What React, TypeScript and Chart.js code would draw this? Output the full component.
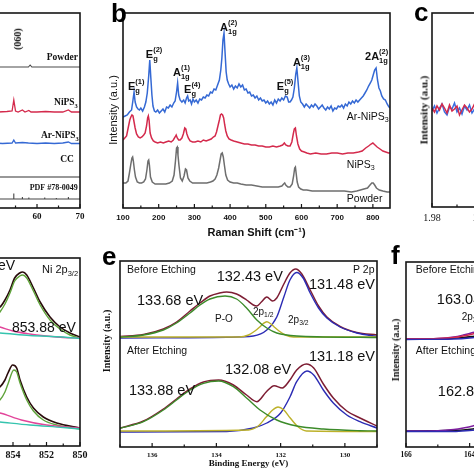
import { useEffect, useRef } from 'react';
import { Chart, registerables } from 'chart.js';
Chart.register(...registerables);

const SANS = '"Liberation Sans", Arial, sans-serif';
const SERIF = '"Liberation Serif", "Times New Roman", serif';

// ---------- panel a (XRD, partial) ----------
const xrdPowder2Theta = [47.9, 52, 55, 58, 58.4, 58.8, 62, 66, 70];
const xrdPowderI = [141, 141, 141, 141, 143, 141, 141, 141, 141];
const xrdNiPS32Theta = [47.9, 51, 53, 54.2, 54.6, 55.0, 55.6, 56.6, 57.2, 58.1, 58.6, 60, 62, 64, 66, 67.3, 68, 70];
const xrdNiPS3I = [96, 96, 96.5, 97, 108, 97, 96, 98, 96, 97.5, 96, 96, 96.5, 96, 96, 98, 96, 96];
const xrdArNiPS32Theta = [47.9, 50, 52, 54.2, 54.6, 55, 56.6, 58, 60, 62, 64, 66, 67.3, 68, 70];
const xrdArNiPS3I = [64.5, 65, 64.5, 65, 68, 65, 65.5, 65, 64.5, 65, 64.5, 65, 66, 64.5, 64.5];
const xrdCC2Theta = [47.9, 70];
const xrdCCI = [31, 31];
const xrdPdf2Theta = [47.9, 54.6, 54.6, 54.6, 56.6, 56.6, 56.6, 58.1, 58.1, 58.1, 61.8, 61.8, 61.8, 64.5, 64.5, 64.5, 67.3, 67.3, 67.3, 70];
const xrdPdfI = [9, 9, 14.5, 9, 9, 11, 9, 9, 10.5, 9, 9, 10.5, 9, 9, 10, 9, 9, 11, 9, 9];

// ---------- panel b (Raman) ----------
const ramanArShift = [100,106,112,118,124,128,131,134,138,142,146,150,155,160,164,168,172,175,178,181,184,188,192,197,202,207,212,217,222,227,232,237,242,246,250,253,256,260,265,270,274,278,281,284,288,292,296,300,305,310,315,320,325,330,335,340,345,350,355,360,365,370,374,377,380,383,386,389,392,396,400,405,410,415,420,425,430,435,440,445,450,455,460,465,470,475,480,485,490,495,500,505,510,515,520,525,530,535,540,545,550,555,560,564,568,572,576,580,584,587,590,594,598,603,608,613,618,623,628,633,638,643,648,653,658,663,668,673,678,683,688,693,698,703,708,713,718,723,728,733,738,743,748,753,758,763,768,773,778,783,788,793,797,801,805,809,813,817,821,825,830,835,840,845,850];
const ramanArI = [91,92,93,96,98,108,116,106,101,99,98,100,97,101,106,115,132,148,130,113,102,97,96,98,95,97,99,96,101,100,103,101,105,107,116,125,113,108,106,108,105,110,112,107,108,104,109,106,108,105,109,108,111,110,113,112,116,115,119,118,123,128,138,150,168,175,155,136,128,124,121,123,119,122,120,124,121,123,118,119,115,116,112,113,110,112,108,110,107,108,105,107,104,106,103,108,105,109,107,110,108,112,111,106,106,108,111,120,134,140,128,112,106,104,101,104,102,100,103,101,104,102,99,101,103,100,98,101,99,102,97,100,99,102,101,103,100,104,102,106,104,107,105,108,106,108,110,112,115,118,122,125,128,133,138,140,128,120,117,112,109,108,104,101,100];
const ramanNiShift = [100,105,110,115,119,122,125,128,131,134,138,143,148,153,158,162,166,169,171,173,176,180,185,190,197,205,213,220,228,235,241,246,249,252,256,260,265,269,273,276,279,283,288,295,302,310,318,325,333,340,347,353,358,362,366,370,373,376,379,382,385,388,392,397,403,410,420,430,440,450,460,470,480,490,500,510,520,530,540,547,552,556,562,568,573,577,580,583,586,590,595,600,608,615,625,640,655,670,685,700,715,730,745,760,770,780,788,795,800,806,812,820,828,836,844,850];
const ramanNiI = [68,70,72,81,88,91,93,92,86,80,74,71,70,71,73,75,82,90,92,88,75,70,67,66,65,66,65,66,67,66,68,71,73,70,68,68,70,74,80,79,74,70,67,66,66,67,66,68,67,68,69,71,72,76,82,88,93,94,93,90,83,77,72,69,68,67,66,65,64,64,63,63,62,62,61,61,62,61,62,63,65,63,62,62,66,74,79,80,72,64,59,57,56,55,54,55,54,54,55,55,54,55,55,56,57,60,62,64,65,63,61,59,57,56,55,55];
const ramanPowderShift = [100,108,114,118,122,125,127,129,132,135,140,146,152,158,163,167,170,172,174,177,182,190,200,210,220,230,238,243,247,250,252,254,257,261,266,271,275,278,282,287,295,305,315,325,335,345,352,358,363,368,372,375,378,381,384,388,393,400,410,420,430,445,460,475,490,505,520,535,545,550,553,556,562,568,574,578,581,583,585,588,592,598,605,615,630,645,660,680,700,720,740,755,765,775,785,792,797,801,805,810,818,828,840,850];
const ramanPowderI = [25,25,27,35,44,50,51,47,38,31,26,25,25,26,29,38,47,48,43,31,26,24,24,24,24,25,27,33,47,60,61,53,42,30,27,32,39,38,30,27,25,25,25,25,25,26,27,29,33,40,48,54,55,51,43,33,28,26,25,25,24,23,23,22,21,21,21,21,22,24,25,23,21,21,24,32,40,41,35,26,21,19,18,18,17,17,17,17,17,17,16,17,18,19,20,23,25,25,23,20,18,17,16,16];

// ---------- panel c (partial) ----------
const cField = [1.98,1.981,1.982,1.983,1.984,1.985,1.986,1.987,1.988,1.989,1.99,1.991,1.992,1.993,1.994,1.995,1.996,1.997,1.998,1.999,2.0,2.001,2.002,2.003,2.004];
const cRedI = [99,95,101,97,103,99,94,102,96,98,101,92,97,102,99,95,98,103,96,100,94,99,97,101,98];
const cBlueI = [96,101,94,99,103,95,92,100,98,104,95,99,93,101,97,102,94,98,100,96,103,91,99,97,101];

// ---------- panel d (Ni 2p3/2, partial) ----------
const niBeforeE = [850, 850.6, 851.19, 851.79, 852.38, 852.78, 853.18, 853.42, 853.6, 853.9, 854.18, 854.48, 854.78, 855.3, 856];
const niBeforeEnvI = [109, 113, 119, 129, 144, 158, 171, 174, 173, 168, 156, 146, 139, 137, 141];
const niBeforeMainI = [108, 111, 117, 126, 141, 155, 168, 171, 170, 165, 153, 142, 134, 124, 116];
const niBeforeSatE = [850, 851, 852, 853, 854, 854.78, 856];
const niBeforeSatI = [108, 108.5, 110, 112, 115, 119, 124];
const niBeforeBgE = [850, 851, 853, 854.78, 856];
const niBeforeBgI = [107.5, 109, 110.5, 113, 114];
const niAfterEnvE = [850, 851.39, 852.19, 852.78, 853.18, 853.58, 853.78, 854.02, 854.3, 854.48, 854.78, 855.3, 856];
const niAfterEnvI = [18, 23, 29, 38, 49, 66, 78, 81, 73, 66, 59, 54, 51];
const niAfterMainE = [850, 851.39, 852.19, 852.78, 853.18, 853.58, 853.78, 853.95, 854.3, 854.48, 854.78, 855.3, 856];
const niAfterMainI = [17, 21, 26, 35, 46, 63, 74, 76, 62, 54, 46, 42, 38];
const niAfterSatE = [850, 852, 853.5, 854.78, 856];
const niAfterSatI = [18, 21, 26, 33, 36];
const niAfterBgE = [850, 851, 853, 854.78, 856];
const niAfterBgI = [17, 18.5, 21, 24, 26];

// ---------- panel e (P 2p) ----------
const pBeforeEnvE = [129, 129.63, 130.15, 130.56, 130.82, 131.08, 131.34, 131.53, 131.71, 131.9, 132.12, 132.25, 132.43, 132.6, 132.74, 132.85, 133.06, 133.37, 133.68, 133.9, 134.2, 134.51, 134.82, 135.24, 135.65, 136.27, 137];
const pBeforeEnvI = [112, 114.5, 120.5, 130, 141, 157, 173, 178, 174, 163, 149, 146, 150, 145, 141, 142, 147, 153, 155, 154, 151, 144, 136, 125, 118, 112.5, 110.5];
const pBeforePOE = [129, 129.53, 131.5, 132.12, 132.43, 132.74, 133.06, 133.37, 133.73, 134.2, 134.51, 134.82, 135.24, 135.65, 136.27, 137];
const pBeforePOI = [109.5, 109.7, 111, 114, 119, 127, 139, 148, 151, 148, 142, 134, 124, 117, 112, 109.7];
const pBefore12E = [129, 131.6, 131.85, 132.05, 132.2, 132.32, 132.43, 132.54, 132.65, 132.8, 133.0, 133.3, 137];
const pBefore12I = [110, 110, 112, 116, 120, 123.5, 125.3, 123.5, 120, 116, 112, 110, 110];
const pBefore32E = [129, 129.63, 130.15, 130.56, 130.82, 131.08, 131.3, 131.5, 131.71, 131.9, 132.12, 132.43, 132.85, 133.68, 137];
const pBefore32I = [110.5, 114, 120, 129, 139, 154, 169, 174.5, 167, 150, 130, 117, 111, 109.7, 109];
const pAfterEnvE = [129, 129.53, 129.94, 130.36, 130.67, 130.97, 131.2, 131.5, 131.71, 131.95, 132.2, 132.45, 132.74, 133.06, 133.47, 133.93, 134.4, 134.82, 135.24, 135.65, 136.27, 137];
const pAfterEnvI = [21, 29, 36, 49, 63, 79, 83, 77, 67, 59, 61.3, 55, 45.3, 52, 62, 67, 65, 58, 48, 38, 26, 19];
const pAfterPOE = [129, 129.53, 130.67, 131.5, 132.12, 132.64, 133.06, 133.47, 133.93, 134.4, 134.82, 135.24, 135.65, 136.27, 137];
const pAfterPOI = [16, 16.3, 18, 21, 27, 37, 49, 60.3, 66, 63.7, 57, 47, 37, 25.3, 18.7];
const pAfter12E = [129, 131.2, 131.45, 131.7, 131.9, 132.08, 132.25, 132.45, 132.7, 133.0, 137];
const pAfter12I = [15.5, 16, 20, 29, 37, 40, 37, 30, 21, 17, 16];
const pAfter32E = [129, 129.53, 129.94, 130.36, 130.67, 130.97, 131.18, 131.5, 131.71, 132.0, 132.43, 132.85, 133.68, 137];
const pAfter32I = [19, 25.3, 32, 44, 57, 72, 76, 65.3, 50, 34, 24, 19, 15.5, 15];

// ---------- panel f (S 2p, partial) ----------
const sE6 = [163.5, 163.9, 164.2, 164.5, 165, 166];
const sBeforeBlackI = [112, 110.5, 109.5, 108.8, 108.3, 108];
const sBeforePurpleI = [119, 114.5, 112, 110, 108.5, 108];
const sBeforeRedI = [117, 113, 111, 109.5, 108.5, 108];
const sE4 = [163.5, 164, 164.5, 166];
const sBeforeBlueI = [111, 109, 108, 107.5];
const sAfterBlackI = [20, 18, 17, 16.6, 16.2, 16];
const sAfterPurpleI = [25, 21, 19, 17.5, 16.3, 16];
const sAfterBlueI = [18, 16.5, 15.5, 15.5];

// ---------- tick labels ----------
const xrdTicks = [50, 60, 70];
const ramanTicks = [100, 200, 300, 400, 500, 600, 700, 800];
const cTicks = [1.98, 2.0];
const niTicks = [850, 852, 854, 856];
const pTicks = [130, 132, 134, 136];
const sTicks = [164, 166];

type Seg = [string, number]; // 0 normal, 1 sub, 2 sup, 3 stacked "sub|sup"
interface Label { x: number; y: number; segs: Seg[]; size: number; family: string; weight?: string; align?: 'left' | 'right'; color?: string; }
interface Series { xs: number[]; ys: number[]; color: string; width?: number; smooth?: boolean; }
interface PanelSpec {
  left: number; top: number; width: number; height: number;
  pad: { left: number; top: number; right: number }; xHeight: number;
  xMin: number; xMax: number; reverse?: boolean; yMax: number; ticks: number[];
  tick: { family: string; size: number; weight: string; pad: number; decimals: number };
  title?: { text: string; family: string; size: number; weight: string; pb: number };
  series: Series[]; labels: Label[];
}

function drawLabel(ctx: CanvasRenderingContext2D, px: number, py: number, l: Label) {
  const small = l.size * 0.68;
  const w = l.weight || 'normal';
  const f = (s: number) => `${w} ${s}px ${l.family}`;
  const widths = l.segs.map(([t, k]) => {
    if (k === 0) { ctx.font = f(l.size); return ctx.measureText(t).width; }
    ctx.font = f(small);
    if (k === 3) { const [a, b] = t.split('|'); return Math.max(ctx.measureText(a).width, ctx.measureText(b).width); }
    return ctx.measureText(t).width;
  });
  const total = widths.reduce((a, b) => a + b, 0);
  let x = l.align === 'right' ? px - total : px;
  ctx.textBaseline = 'middle';
  ctx.textAlign = 'left';
  ctx.fillStyle = l.color || '#111';
  l.segs.forEach(([t, k], i) => {
    if (k === 0) { ctx.font = f(l.size); ctx.fillText(t, x, py); }
    else {
      ctx.font = f(small);
      if (k === 1) ctx.fillText(t, x, py + l.size * 0.33);
      else if (k === 2) ctx.fillText(t, x, py - l.size * 0.42);
      else { const [a, b] = t.split('|'); ctx.fillText(a, x, py + l.size * 0.33); ctx.fillText(b, x, py - l.size * 0.45); }
    }
    x += widths[i];
  });
}

function buildChart(canvas: HTMLCanvasElement, p: PanelSpec) {
  const decor = {
    id: 'decor',
    afterDatasetsDraw(chart: any) {
      const { ctx, chartArea: ca, scales } = chart;
      const xs = scales.x, ys = scales.y;
      ctx.save();
      ctx.strokeStyle = '#161616';
      ctx.lineWidth = 1.6;
      ctx.strokeRect(ca.left, ca.top, ca.right - ca.left, ca.bottom - ca.top);
      const majors = [...p.ticks].sort((a, b) => a - b);
      const minors: number[] = [];
      if (majors.length > 1) {
        const st = majors[1] - majors[0];
        minors.push(majors[0] - st / 2);
        majors.forEach((v) => minors.push(v + st / 2));
      }
      ctx.lineWidth = 1.2;
      const tick = (v: number, len: number) => {
        const px = xs.getPixelForValue(v);
        if (px < ca.left - 0.5 || px > ca.right + 0.5) return;
        ctx.beginPath(); ctx.moveTo(px, ca.bottom); ctx.lineTo(px, ca.bottom - len); ctx.stroke();
      };
      majors.forEach((v) => tick(v, 4));
      minors.forEach((v) => tick(v, 2.5));
      for (const l of p.labels) drawLabel(ctx, xs.getPixelForValue(l.x), ys.getPixelForValue(l.y), l);
      ctx.restore();
    },
  };
  const cfg: any = {
    type: 'line',
    data: {
      datasets: p.series.map((s) => ({
        data: s.xs.map((x, i) => ({ x, y: s.ys[i] })),
        borderColor: s.color,
        borderWidth: s.width ?? 1.4,
        pointRadius: 0,
        fill: false,
        tension: s.smooth ? 0.4 : 0,
        cubicInterpolationMode: s.smooth ? 'monotone' : 'default',
      })),
    },
    options: {
      animation: false,
      responsive: false,
      maintainAspectRatio: false,
      devicePixelRatio: 1,
      events: [],
      layout: { padding: { left: p.pad.left, top: p.pad.top, right: p.pad.right, bottom: 0 } },
      plugins: { legend: { display: false }, tooltip: { enabled: false } },
      scales: {
        x: {
          type: 'linear', min: p.xMin, max: p.xMax, reverse: !!p.reverse,
          grid: { display: false, drawTicks: false },
          border: { display: false },
          afterBuildTicks: (s: any) => { s.ticks = p.ticks.map((v) => ({ value: v })); },
          afterFit: (s: any) => { s.height = p.xHeight; },
          ticks: {
            autoSkip: false, maxRotation: 0, minRotation: 0,
            padding: p.tick.pad, color: '#111',
            font: { family: p.tick.family, size: p.tick.size, weight: p.tick.weight },
            callback: (v: number) => Number(v).toFixed(p.tick.decimals),
          },
          title: p.title
            ? { display: true, text: p.title.text, color: '#111', padding: { top: 0, bottom: p.title.pb },
                font: { family: p.title.family, size: p.title.size, weight: p.title.weight } }
            : { display: false },
        },
        y: { display: false, min: 0, max: p.yMax },
      },
    },
    plugins: [decor],
  };
  return new Chart(canvas, cfg);
}

function PanelChart({ spec }: { spec: PanelSpec }) {
  const ref = useRef<HTMLCanvasElement>(null);
  useEffect(() => {
    const chart = buildChart(ref.current as HTMLCanvasElement, spec);
    return () => chart.destroy();
  }, []);
  return (
    <canvas ref={ref} width={spec.width} height={spec.height}
      style={{ position: 'absolute', left: spec.left, top: spec.top, width: spec.width, height: spec.height }} />
  );
}

const BLUE = '#3569d4';
const RED = '#d42a4c';

const serifLab = (x: number, y: number, segs: Seg[], size = 9.5): Label => ({ x, y, segs, size, family: SERIF, weight: 'bold', align: 'right' });
const peakLab = (x: number, y: number, base: string, stack: string): Label => ({ x, y, segs: [[base, 0], [stack, 3]], size: 11, family: SANS, weight: 'bold' });
const sansLab = (x: number, y: number, segs: Seg[], size: number): Label => ({ x, y, segs, size, family: SANS });

const panelA: PanelSpec = {
  left: -35, top: 0, width: 127, height: 245, pad: { left: 20, top: 13, right: 12 }, xHeight: 37,
  xMin: 47.9, xMax: 70, yMax: 195, ticks: xrdTicks,
  tick: { family: SERIF, size: 9, weight: 'bold', pad: 3.6, decimals: 0 },
  series: [
    { xs: xrdPdf2Theta, ys: xrdPdfI, color: '#444', width: 1.1 },
    { xs: xrdCC2Theta, ys: xrdCCI, color: '#333', width: 1.1 },
    { xs: xrdArNiPS32Theta, ys: xrdArNiPS3I, color: BLUE, width: 1.3 },
    { xs: xrdNiPS32Theta, ys: xrdNiPS3I, color: RED, width: 1.3 },
    { xs: xrdPowder2Theta, ys: xrdPowderI, color: '#4a4a4a', width: 1.1 },
  ],
  labels: [
    serifLab(69.5, 150, [['Powder', 0]]),
    serifLab(69.5, 105, [['NiPS', 0], ['3', 1]]),
    serifLab(69.7, 72, [['Ar-NiPS', 0], ['3', 1]]),
    serifLab(68.6, 48, [['CC', 0]]),
    serifLab(69.5, 20, [['PDF #78-0049', 0]], 8),
  ],
};

const panelB: PanelSpec = {
  left: 100, top: 0, width: 300, height: 245, pad: { left: 23, top: 13, right: 10 }, xHeight: 37,
  xMin: 100, xMax: 848, yMax: 195, ticks: ramanTicks,
  tick: { family: SANS, size: 8, weight: 'bold', pad: 5.2, decimals: 0 },
  title: { text: 'Raman Shift (cm\u207B\u00B9)', family: SANS, size: 11, weight: 'bold', pb: 5.4 },
  series: [
    { xs: ramanPowderShift, ys: ramanPowderI, color: '#6e6e6e', width: 1.5 },
    { xs: ramanNiShift, ys: ramanNiI, color: RED, width: 1.5 },
    { xs: ramanArShift, ys: ramanArI, color: BLUE, width: 1.5 },
  ],
  labels: [
    peakLab(114, 121, 'E', 'g|(1)'),
    peakLab(164, 153, 'E', 'g|(2)'),
    peakLab(240, 135, 'A', '1g|(1)'),
    peakLab(271, 118, 'E', 'g|(4)'),
    peakLab(372, 180, 'A', '1g|(2)'),
    peakLab(531, 121, 'E', 'g|(5)'),
    peakLab(576, 145, 'A', '1g|(3)'),
    peakLab(778, 151, '2A', '1g|(2)'),
    sansLab(727, 91, [['Ar-NiPS', 0], ['3', 1]], 10.5),
    sansLab(727, 43, [['NiPS', 0], ['3', 1]], 10.5),
    sansLab(727, 9, [['Powder', 0]], 10.5),
  ],
};

const panelC: PanelSpec = {
  left: 402, top: 0, width: 100, height: 245, pad: { left: 30, top: 13, right: 10 }, xHeight: 38,
  xMin: 1.98, xMax: 2.004, yMax: 194, ticks: cTicks,
  tick: { family: SERIF, size: 10, weight: 'normal', pad: 5, decimals: 2 },
  series: [
    { xs: cField, ys: cRedI, color: RED, width: 1.5 },
    { xs: cField, ys: cBlueI, color: '#3a6ee0', width: 1.5 },
  ],
  labels: [],
};

const panelD: PanelSpec = {
  left: -40, top: 240, width: 132, height: 234, pad: { left: 19.5, top: 18, right: 12 }, xHeight: 28,
  xMin: 850, xMax: 856, reverse: true, yMax: 188, ticks: niTicks,
  tick: { family: SERIF, size: 10, weight: 'bold', pad: 3, decimals: 0 },
  series: [
    { xs: niBeforeBgE, ys: niBeforeBgI, color: '#35c4ae', smooth: true },
    { xs: niBeforeSatE, ys: niBeforeSatI, color: '#e2459a', smooth: true },
    { xs: niBeforeE, ys: niBeforeMainI, color: '#5fa33a', smooth: true },
    { xs: niBeforeE, ys: niBeforeEnvI, color: '#2a0c0c', width: 1.6, smooth: true },
    { xs: niAfterBgE, ys: niAfterBgI, color: '#35c4ae', smooth: true },
    { xs: niAfterSatE, ys: niAfterSatI, color: '#e2459a', smooth: true },
    { xs: niAfterMainE, ys: niAfterMainI, color: '#5fa33a', smooth: true },
    { xs: niAfterEnvE, ys: niAfterEnvI, color: '#2a0c0c', width: 1.6, smooth: true },
  ],
  labels: [
    { ...sansLab(853.88, 180, [['853.48 eV', 0]], 14), align: 'right' },
    sansLab(852.27, 176, [['Ni 2p', 0], ['3/2', 1]], 11),
    sansLab(854.06, 118, [['853.88 eV', 0]], 14),
  ],
};

const panelE: PanelSpec = {
  left: 96, top: 240, width: 290, height: 234, pad: { left: 24, top: 21, right: 9 }, xHeight: 27,
  xMin: 129, xMax: 137, reverse: true, yMax: 186, ticks: pTicks,
  tick: { family: SERIF, size: 7, weight: 'bold', pad: 3.8, decimals: 0 },
  title: { text: 'Binding Energy (eV)', family: SERIF, size: 9, weight: 'bold', pb: 4.6 },
  series: [
    { xs: pBeforePOE, ys: pBeforePOI, color: '#3c8b2a', smooth: true },
    { xs: pBefore12E, ys: pBefore12I, color: '#bdb12a', smooth: true },
    { xs: pBefore32E, ys: pBefore32I, color: '#2c2cb4', smooth: true },
    { xs: pBeforeEnvE, ys: pBeforeEnvI, color: '#7d1d33', width: 1.5, smooth: true },
    { xs: pAfterPOE, ys: pAfterPOI, color: '#3c8b2a', smooth: true },
    { xs: pAfter12E, ys: pAfter12I, color: '#bdb12a', smooth: true },
    { xs: pAfter32E, ys: pAfter32I, color: '#2c2cb4', smooth: true },
    { xs: pAfterEnvE, ys: pAfterEnvI, color: '#7d1d33', width: 1.5, smooth: true },
  ],
  labels: [
    sansLab(136.78, 177, [['Before Etching', 0]], 10.5),
    sansLab(136.47, 146, [['133.68 eV', 0]], 14.5),
    sansLab(133.99, 170, [['132.43 eV', 0]], 14.5),
    sansLab(131.12, 162, [['131.48 eV', 0]], 14.5),
    sansLab(134.04, 128, [['P-O', 0]], 10),
    sansLab(132.86, 135, [['2p', 0], ['1/2', 1]], 10),
    sansLab(131.77, 127, [['2p', 0], ['3/2', 1]], 10),
    sansLab(129.75, 177, [['P 2p', 0]], 10.5),
    sansLab(136.78, 96, [['After Etching', 0]], 10.5),
    sansLab(131.12, 90, [['131.18 eV', 0]], 14.5),
    sansLab(133.73, 77, [['132.08 eV', 0]], 14.5),
    sansLab(136.72, 56, [['133.88 eV', 0]], 14.5),
  ],
};

const panelF: PanelSpec = {
  left: 386, top: 240, width: 100, height: 234, pad: { left: 20, top: 22, right: 10 }, xHeight: 27,
  xMin: 163.8, xMax: 166, reverse: true, yMax: 185, ticks: sTicks,
  tick: { family: SERIF, size: 7.5, weight: 'bold', pad: 3.5, decimals: 0 },
  series: [
    { xs: sE4, ys: sBeforeBlueI, color: '#2c2cb4', smooth: true },
    { xs: sE6, ys: sBeforeRedI, color: RED, smooth: true },
    { xs: sE6, ys: sBeforePurpleI, color: '#7d1d9e', smooth: true },
    { xs: sE6, ys: sBeforeBlackI, color: '#111', width: 1.6, smooth: true },
    { xs: sE4, ys: sAfterBlueI, color: '#2c2cb4', smooth: true },
    { xs: sE6, ys: sAfterPurpleI, color: '#7d1d9e', smooth: true },
    { xs: sE6, ys: sAfterBlackI, color: '#111', width: 1.6, smooth: true },
  ],
  labels: [
    sansLab(165.69, 177, [['Before Etching', 0]], 10.5),
    sansLab(165.03, 147, [['163.04 eV', 0]], 14.5),
    sansLab(164.25, 130, [['2p', 0], ['3/2', 1]], 10),
    sansLab(165.69, 96, [['After Etching', 0]], 10.5),
    sansLab(165.0, 55, [['162.84 eV', 0]], 14.5),
  ],
};

function Letter({ t, x, base }: { t: string; x: number; base: number }) {
  const size = 26;
  return (
    <div style={{ position: 'absolute', left: x, top: base - 0.8465 * size, fontFamily: SANS, fontWeight: 'bold', fontSize: size, lineHeight: 1, color: '#000' }}>{t}</div>
  );
}

function VText({ t, cx, cy, family, size, weight }: { t: string; cx: number; cy: number; family: string; size: number; weight: string }) {
  return (
    <div style={{ position: 'absolute', left: cx, top: cy, transform: 'translate(-50%, -50%) rotate(-90deg)', fontFamily: family, fontSize: size, fontWeight: weight as any, lineHeight: 1, whiteSpace: 'nowrap', color: '#111' }}>{t}</div>
  );
}

export default function App() {
  return (
    <div style={{ position: 'absolute', left: 0, top: 0, width: 474, height: 474, overflow: 'hidden', background: '#fff' }}>
      <PanelChart spec={panelA} />
      <PanelChart spec={panelB} />
      <PanelChart spec={panelC} />
      <PanelChart spec={panelD} />
      <PanelChart spec={panelE} />
      <PanelChart spec={panelF} />
      <Letter t="b" x={111} base={22} />
      <Letter t="c" x={414} base={21} />
      <Letter t="e" x={102} base={265} />
      <Letter t="f" x={391} base={264} />
      <VText t="(060)" cx={18} cy={39} family={SERIF} size={10} weight="bold" />
      <VText t="Intensity (a.u.)" cx={113} cy={110} family={SANS} size={11} weight="normal" />
      <VText t="Intensity (a.u.)" cx={424} cy={110} family={SERIF} size={11} weight="bold" />
      <VText t="Intensity (a.u.)" cx={107} cy={341} family={SERIF} size={10} weight="bold" />
      <VText t="Intensity (a.u.)" cx={396} cy={350} family={SERIF} size={10} weight="bold" />
    </div>
  );
}
